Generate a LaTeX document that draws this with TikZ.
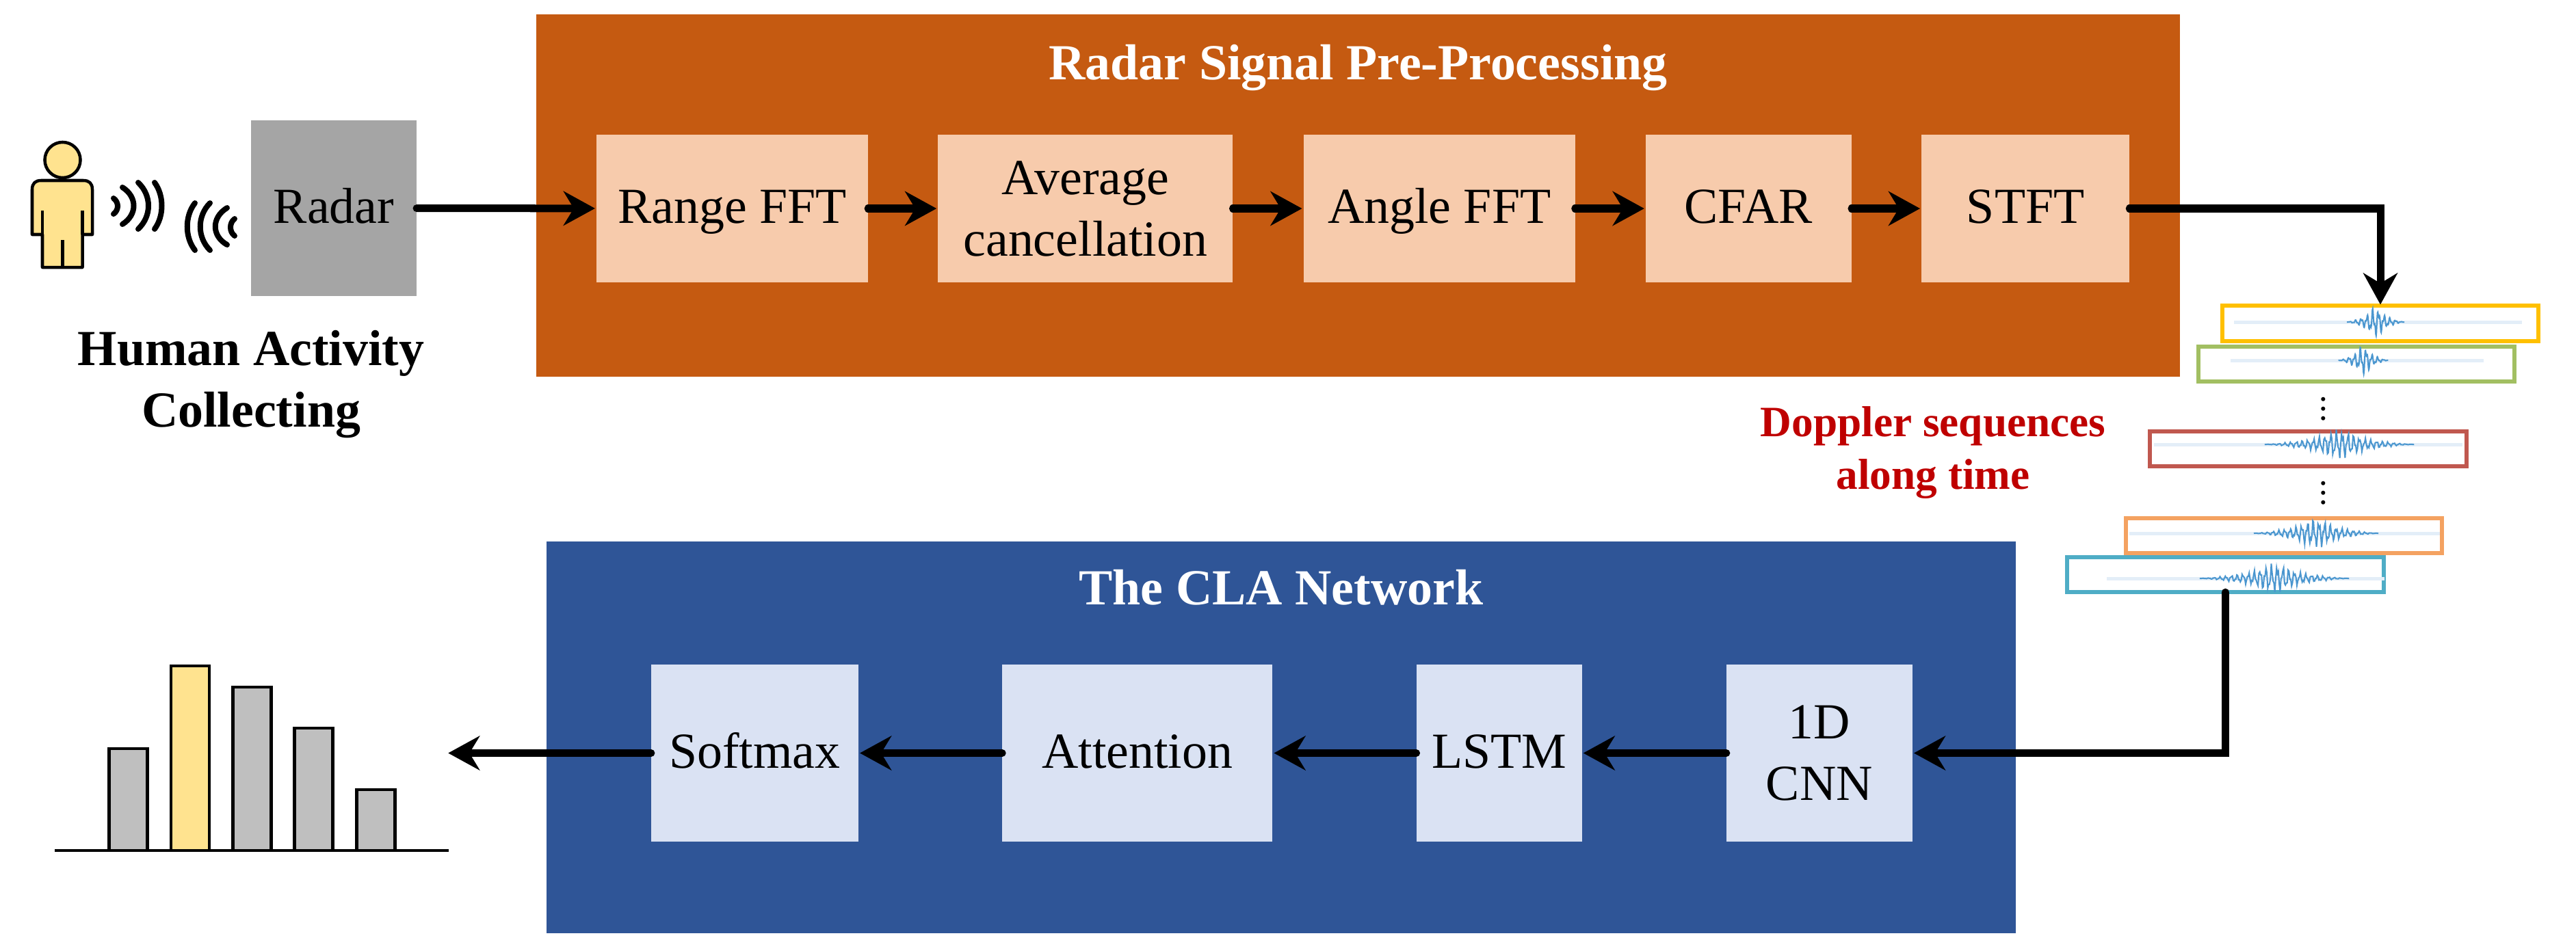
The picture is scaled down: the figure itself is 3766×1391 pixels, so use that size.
\documentclass[tikz,border=0pt]{standalone}
\usepackage{fontspec}
\setmainfont{Liberation Serif}
\usetikzlibrary{arrows.meta}

\definecolor{prepdark}{HTML}{C55A11}
\definecolor{preplight}{HTML}{F7CBAC}
\definecolor{netdark}{HTML}{2F5597}
\definecolor{netlight}{HTML}{DAE2F3}
\definecolor{radargray}{HTML}{A5A5A5}
\definecolor{bargray}{HTML}{BFBFBF}
\definecolor{skin}{HTML}{FFE38F}
\definecolor{wave}{HTML}{4A96CF}
\definecolor{wavefaint}{HTML}{E3EEF8}
\definecolor{seqyellow}{HTML}{FFC000}
\definecolor{seqgreen}{HTML}{A2BF62}
\definecolor{seqred}{HTML}{C0584F}
\definecolor{seqorange}{HTML}{F4A261}
\definecolor{seqblue}{HTML}{4FADC6}

\tikzstyle{panel} = [rectangle, inner sep=0pt, outer sep=0pt]
\tikzstyle{paneltitle} = [white, font=\fontsize{21}{25.6}\selectfont\bfseries, text height=.48cm, text depth=.05cm, inner sep=0pt]
\tikzstyle{block} = [rectangle, inner sep=0pt, outer sep=0pt, align=center, font=\fontsize{21}{25.6}\selectfont]
\tikzstyle{oneline} = [text height=.48cm, text depth=.05cm]
\tikzstyle{prep} = [block, fill=preplight, minimum height=2.16cm]
\tikzstyle{net} = [block, fill=netlight, minimum height=2.59cm]
\tikzstyle{seq} = [draw, rectangle, fill=white, line width=.06cm, minimum width=4.62cm, minimum height=.51cm, inner sep=0pt, outer sep=0pt]
\tikzstyle{bar} = [draw, rectangle, anchor=south, line width=.045cm, fill=bargray, minimum width=.56cm, inner sep=0pt, outer sep=0pt]
\tikzstyle{arrow} = [line width=.11cm, line cap=round, shorten >=.02cm, -{Stealth[length=.46cm,width=.5cm]}]
\tikzstyle{ripple} = [line width=.08cm, line cap=round]
\tikzstyle{body} = [line width=.045cm, fill=skin, line join=round]

\newcommand{\dopplerwave}[6]{
    \draw [wavefaint, line width=.05cm] (#1,#3) -- (#2,#3);
    \draw [wave, line width=.02cm] plot [domain=#4-1.4*#5:#4+1.4*#5, samples=170]
        (\x,{#3+#6*(.35*exp(-((\x-#4)/#5)^4)+.65*exp(-((\x-#4)/(.35*#5))^2))*(sin(43*(\x-#4)+90)+.5*sin(101*(\x-#4)))});
}

\begin{document}
\begin{tikzpicture}[x=.01cm, y=-.01cm, node distance=2cm]
    \useasboundingbox (0,0) rectangle (3766,1391);

    \node [panel, fill=prepdark, minimum width=24.01cm, minimum height=5.3cm] (prepanel) at (1985.5,286) {};
    \node [paneltitle, above of=prepanel, node distance=1.91cm] (preptitle) {Radar Signal Pre-Processing};
    \node [panel, fill=netdark, minimum width=21.46cm, minimum height=5.73cm] (netpanel) at (1873,1078.5) {};
    \node [paneltitle, above of=netpanel, node distance=2.15cm] (nettitle) {The CLA Network};

    \node [block, oneline, fill=radargray, minimum width=2.42cm, minimum height=2.57cm] (radar) at (488,304.5) {Radar};
    \node [prep, oneline, minimum width=3.97cm] (range) at (1070.5,305) {Range FFT};
    \node [prep, minimum width=4.31cm, right of=range, node distance=5.16cm] (avgcancel) {Average\\cancellation};
    \node [prep, oneline, minimum width=3.97cm, right of=avgcancel, node distance=5.17cm] (anglefft) {Angle FFT};
    \node [prep, oneline, minimum width=3.01cm, right of=anglefft, node distance=4.52cm] (cfar) {CFAR};
    \node [prep, oneline, minimum width=3.04cm, right of=cfar, node distance=4.045cm] (stft) {STFT};

    \node [net, oneline, minimum width=3.03cm] (softmax) at (1103.5,1101.5) {Softmax};
    \node [net, oneline, minimum width=3.95cm, right of=softmax, node distance=5.59cm] (attention) {Attention};
    \node [net, oneline, minimum width=2.42cm, right of=attention, node distance=5.285cm] (lstm) {LSTM};
    \node [net, minimum width=2.72cm, right of=lstm, node distance=4.68cm] (cnn) {1D\\CNN};
    \node [coordinate, left of=softmax, node distance=4.5cm] (histend) {};

    \node [seq, draw=seqyellow] (seq1) at (3480,473) {};
    \node [seq, draw=seqgreen, below of=seq1, node distance=.59cm, xshift=-.35cm] (seq2) {};
    \node [seq, draw=seqred, below of=seq2, node distance=1.24cm, xshift=-.705cm] (seq3) {};
    \node [seq, draw=seqorange, below of=seq3, node distance=1.27cm, xshift=-.355cm] (seq4) {};
    \node [seq, draw=seqblue, below of=seq4, node distance=.575cm, xshift=-.855cm] (seq5) {};
    \node [inner sep=0pt, font=\Large] (dots1) at (3397,588) {$\vdots$};
    \node [inner sep=0pt, font=\Large] (dots2) at (3397,711) {$\vdots$};

    \dopplerwave{3266}{3687}{471}{3473}{30}{15}
    \dopplerwave{3261}{3631}{527}{3455}{26}{15}
    \dopplerwave{3149}{3600}{650}{3420}{78}{15}
    \dopplerwave{3113}{3567}{780}{3386}{65}{15}
    \dopplerwave{3080}{3486}{846}{3325}{78}{15}

    \node [font=\fontsize{21}{25.6}\selectfont\bfseries, align=center, inner sep=0pt] (collecting) at (367,562) {Human Activity\\Collecting};
    \node [font=\fontsize{18}{21.8}\selectfont\bfseries, text=red!75!black, align=center, inner sep=0pt] (doppler) at (2826,662) {Doppler sequences\\along time};

    \node [draw, circle, body, minimum size=.52cm, inner sep=0pt] (head) at (91.5,234) {};
    \draw [body] (47,343) -- (47,277) .. controls (47,268) and (52,264) .. (60,264) -- (122,264)
        .. controls (130,264) and (135,268) .. (135,277) -- (135,343) -- (120.5,343) -- (120.5,391)
        -- (62,391) -- (62,343) -- cycle;
    \draw [body] (62,343) -- (62,308);
    \draw [body] (120.5,343) -- (120.5,308);
    \draw [body] (91.5,391) -- (91.5,351);

    \draw [ripple] (166,290) .. controls (174,296) and (174,307) .. (166,313);
    \draw [ripple] (179,274) .. controls (201,288) and (201,314) .. (179,328);
    \draw [ripple] (202,267) .. controls (222,286) and (222,316) .. (202,335);
    \draw [ripple] (226,267) .. controls (240,286) and (240,316) .. (226,335);
    \draw [ripple] (343,320) .. controls (335,326) and (335,339) .. (343,345);
    \draw [ripple] (332,304) .. controls (309,318) and (309,345) .. (332,358);
    \draw [ripple] (307,297) .. controls (288,316) and (288,347) .. (307,366);
    \draw [ripple] (285,297) .. controls (270,316) and (270,347) .. (285,366);

    \node [bar, minimum height=1.49cm] (bar1) at (187.5,1244) {};
    \node [bar, fill=skin, minimum height=2.70cm] (bar2) at (278,1244) {};
    \node [bar, minimum height=2.39cm] (bar3) at (368.5,1244) {};
    \node [bar, minimum height=1.79cm] (bar4) at (458.5,1244) {};
    \node [bar, minimum height=.89cm] (bar5) at (549.5,1244) {};
    \node [coordinate] (axisleft) at (80,1244) {};
    \node [coordinate] (axisright) at (656,1244) {};
    \draw [line width=.045cm] (axisleft) -- (axisright);

    \draw [arrow] (radar) -- (range);
    \draw [arrow] (range) -- (avgcancel);
    \draw [arrow] (avgcancel) -- (anglefft);
    \draw [arrow] (anglefft) -- (cfar);
    \draw [arrow] (cfar) -- (stft);
    \draw [arrow] (stft) -| (seq1);
    \draw [arrow] (seq5.south) |- (cnn);
    \draw [arrow] (cnn) -- (lstm);
    \draw [arrow] (lstm) -- (attention);
    \draw [arrow] (attention) -- (softmax);
    \draw [arrow] (softmax) -- (histend);
\end{tikzpicture}
\end{document}
